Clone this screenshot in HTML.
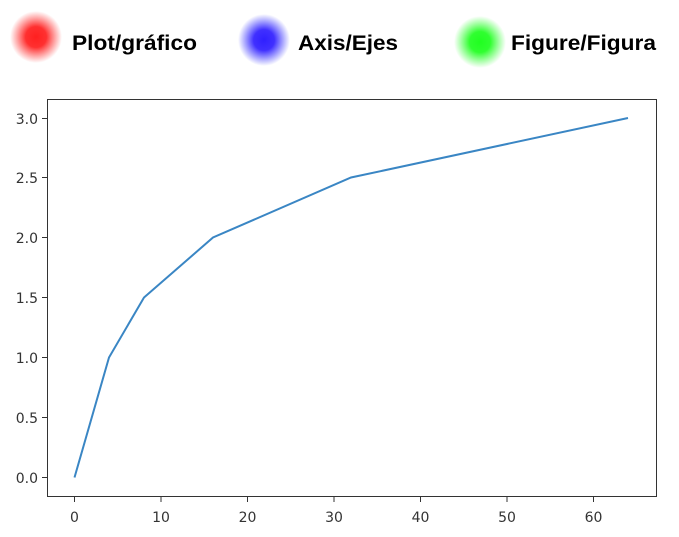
<!DOCTYPE html>
<html><head><style>
html,body{margin:0;padding:0;background:#fff;width:679px;height:537px;overflow:hidden}
</style></head><body>
<svg width="679" height="537" xmlns="http://www.w3.org/2000/svg" style="position:absolute;left:0;top:0">
<defs>
<radialGradient id="r"><stop offset="0" stop-color="#ff2020"/><stop offset="0.4" stop-color="#ff3030"/><stop offset="1" stop-color="#ff4040" stop-opacity="0"/></radialGradient>
<radialGradient id="b"><stop offset="0" stop-color="#3020ff"/><stop offset="0.4" stop-color="#4030ff"/><stop offset="1" stop-color="#4040ff" stop-opacity="0"/></radialGradient>
<radialGradient id="g"><stop offset="0" stop-color="#20ff20"/><stop offset="0.4" stop-color="#30ff30"/><stop offset="1" stop-color="#40ff40" stop-opacity="0"/></radialGradient>
</defs>
<circle cx="36" cy="37" r="26" fill="url(#r)"/>
<circle cx="264" cy="40" r="26" fill="url(#b)"/>
<circle cx="480" cy="42" r="26" fill="url(#g)"/>
<g font-family="Liberation Sans, sans-serif" font-weight="bold" font-size="21" fill="#000">
<text x="72" y="50" textLength="125" lengthAdjust="spacingAndGlyphs">Plot/gráfico</text>
<text x="298" y="50" textLength="100" lengthAdjust="spacingAndGlyphs">Axis/Ejes</text>
<text x="511" y="50" textLength="145" lengthAdjust="spacingAndGlyphs">Figure/Figura</text>
</g>
<rect x="47.5" y="99.5" width="609" height="397" fill="none" stroke="#333" stroke-width="1"/>
<g stroke="#333" stroke-width="1">
<line x1="42" x2="47" y1="477.5" y2="477.5"/><line x1="42" x2="47" y1="417.5" y2="417.5"/>
<line x1="42" x2="47" y1="357.5" y2="357.5"/><line x1="42" x2="47" y1="297.5" y2="297.5"/>
<line x1="42" x2="47" y1="237.5" y2="237.5"/><line x1="42" x2="47" y1="177.5" y2="177.5"/>
<line x1="42" x2="47" y1="118.5" y2="118.5"/>
<line y1="497" y2="502" x1="74.5" x2="74.5"/><line y1="497" y2="502" x1="161" x2="161"/>
<line y1="497" y2="502" x1="247.5" x2="247.5"/><line y1="497" y2="502" x1="334" x2="334"/>
<line y1="497" y2="502" x1="420.5" x2="420.5"/><line y1="497" y2="502" x1="507" x2="507"/>
<line y1="497" y2="502" x1="593.5" x2="593.5"/>
</g>
<g font-family="DejaVu Sans, sans-serif" font-size="14" fill="#333" text-anchor="end">
<text x="38" y="483">0.0</text><text x="38" y="423">0.5</text><text x="38" y="363">1.0</text>
<text x="38" y="303">1.5</text><text x="38" y="243">2.0</text><text x="38" y="183">2.5</text>
<text x="38" y="124">3.0</text>
</g>
<g font-family="DejaVu Sans, sans-serif" font-size="14" fill="#333" text-anchor="middle">
<text x="74.5" y="522">0</text><text x="161" y="522">10</text><text x="247.5" y="522">20</text>
<text x="334" y="522">30</text><text x="420.5" y="522">40</text><text x="507" y="522">50</text>
<text x="593.5" y="522">60</text>
</g>
<polyline fill="none" stroke="#3a86c4" stroke-width="2" points="74.5,477.5 109,357.5 144,297.5 213,237.5 351,177.5 628,118"/>
</svg>
</body></html>
